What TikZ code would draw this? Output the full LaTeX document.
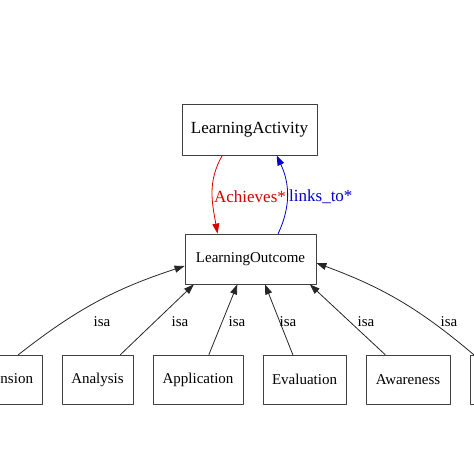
\documentclass[tikz,border=0pt]{standalone}
\usepackage{fontspec}
\setmainfont{Liberation Serif}
\usetikzlibrary{arrows.meta,calc}
\tikzset{
  box/.style={draw=black!75,line width=0.8pt,minimum height=49pt,inner sep=0pt,font=\fontsize{15}{18}\selectfont},
  isa/.style={draw=black!85,line width=0.8pt,-{Triangle[length=10pt,width=7pt]}},
  lbl/.style={font=\fontsize{15}{18}\selectfont,inner sep=0pt},
  toplbl/.style={font=\fontsize{17}{20}\selectfont,inner sep=0pt},
}
\begin{document}
\begin{tikzpicture}[x=1pt,y=1pt,line cap=round,line join=round]
\useasboundingbox (0,0) rectangle (474,-474);
\clip (0,0) rectangle (474,-474);
\node[box,minimum width=135pt,minimum height=51pt,font=\fontsize{17}{20}\selectfont] (act) at (249.5,-129.5) {LearningActivity};
\node[box,minimum width=131pt,minimum height=50pt] (out) at (250.5,-259) {LearningOutcome};
\node[box,minimum width=113pt] (comp) at (-14.5,-379.5) {Comprehension};
\node[box,minimum width=71pt] (ana) at (97.5,-379.5) {Analysis};
\node[box,minimum width=90pt] (app) at (198,-379.5) {Application};
\node[box,minimum width=83pt] (eva) at (304.5,-379.5) {Evaluation};
\node[box,minimum width=84pt] (awa) at (408,-379.5) {Awareness};
\node[box,minimum width=100pt] (rest) at (520,-379.5) {};
\draw [line width=0.8pt,draw=red!85!black,-{Triangle[length=10pt,width=7pt]}] ($(act.south west)!0.30!(act.south east)$) to[out=240,in=100] ($(out.north west)!0.25!(out.north east)$);
\draw [line width=0.8pt,draw=blue!80!black,-{Triangle[length=10pt,width=7pt]}] ($(out.north west)!0.71!(out.north east)$) to[out=65,in=295] ($(act.south west)!0.70!(act.south east)$);
\node[toplbl,text=red!85!black] (achv) at (250,-197) {Achieves*};
\node[toplbl,text=blue!80!black,anchor=west] (lnk) at (289,-197) {links\_to*};
\draw [isa] ($(comp.north west)!0.79!(comp.north east)$) to[bend left=10] ($(out.west)+(0,-7)$);
\draw [isa] ($(ana.north west)!0.82!(ana.north east)$) -- ($(out.south west)!0.07!(out.south east)$);
\draw [isa] ($(app.north west)!0.62!(app.north east)$) -- ($(out.south west)!0.40!(out.south east)$);
\draw [isa] ($(eva.north west)!0.36!(eva.north east)$) -- ($(out.south west)!0.61!(out.south east)$);
\draw [isa] ($(awa.north west)!0.23!(awa.north east)$) -- ($(out.south west)!0.95!(out.south east)$);
\draw [isa] ($(rest.north west)!0.04!(rest.north east)$) to[bend right=10] ($(out.east)+(0,-4)$);
\node[lbl] (isa1) at (102,-322) {isa};
\node[lbl] (isa2) at (180,-322) {isa};
\node[lbl] (isa3) at (237,-322) {isa};
\node[lbl] (isa4) at (288,-322) {isa};
\node[lbl] (isa5) at (366,-322) {isa};
\node[lbl] (isa6) at (449,-322) {isa};
\end{tikzpicture}
\end{document}
